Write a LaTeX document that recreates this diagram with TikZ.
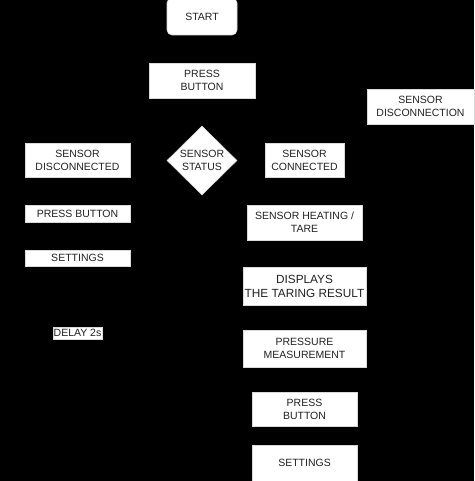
\documentclass[tikz,border=0pt]{standalone}
\usepackage{fontspec}
\setmainfont{Liberation Sans}
\usetikzlibrary{shapes.geometric}
\definecolor{txt}{HTML}{222222}
\begin{document}
\begin{tikzpicture}[x=1pt,y=-1pt,
  box/.style={draw=white!85!black, line width=0.6pt, fill=white, text=txt, inner sep=0pt, align=center,
    font=\fontsize{10.5}{13}\selectfont},
  bigbox/.style={box, font=\fontsize{11.8}{14}\selectfont}]
\fill[black] (0,0) rectangle (474,481);
\useasboundingbox (0,0) rectangle (474,481);
\node[box, rounded corners=5pt, minimum width=70pt, minimum height=37pt] (start) at (202,16.5) {START};
\node[box, minimum width=106pt, minimum height=35pt] (pb1) at (202,80.5) {PRESS\\BUTTON};
\node[box, minimum width=107pt, minimum height=35pt] (sdisc) at (420.5,106.5) {SENSOR\\DISCONNECTION};
\node[box, minimum width=105pt, minimum height=34pt] (sdcd) at (77.5,160) {SENSOR\\DISCONNECTED};
\node[box, diamond, aspect=1, minimum width=70pt, minimum height=69pt] (status) at (202,160.5) {SENSOR\\STATUS};
\node[box, minimum width=79pt, minimum height=34pt] (scon) at (304.5,160) {SENSOR\\CONNECTED};
\node[box, minimum width=105pt, minimum height=17pt] (pbL) at (77.5,213.5) {PRESS BUTTON};
\node[box, minimum width=115pt, minimum height=35pt] (heat) at (304.5,222.5) {SENSOR HEATING /\\TARE};
\node[box, minimum width=105pt, minimum height=16pt] (setL) at (77.5,258) {SETTINGS};
\node[bigbox, minimum width=123pt, minimum height=38pt] (disp) at (304.5,286) {DISPLAYS\\THE TARING RESULT};
\node[box, minimum width=49pt, minimum height=12pt] (delay) at (77.5,333) {DELAY 2s};
\node[box, minimum width=123pt, minimum height=37pt] (meas) at (304.5,348.5) {PRESSURE\\MEASUREMENT};
\node[box, minimum width=105pt, minimum height=34pt] (pb2) at (304.5,409) {PRESS\\BUTTON};
\node[box, minimum width=105pt, minimum height=36pt] (set2) at (304.5,463) {SETTINGS};
\end{tikzpicture}
\end{document}
